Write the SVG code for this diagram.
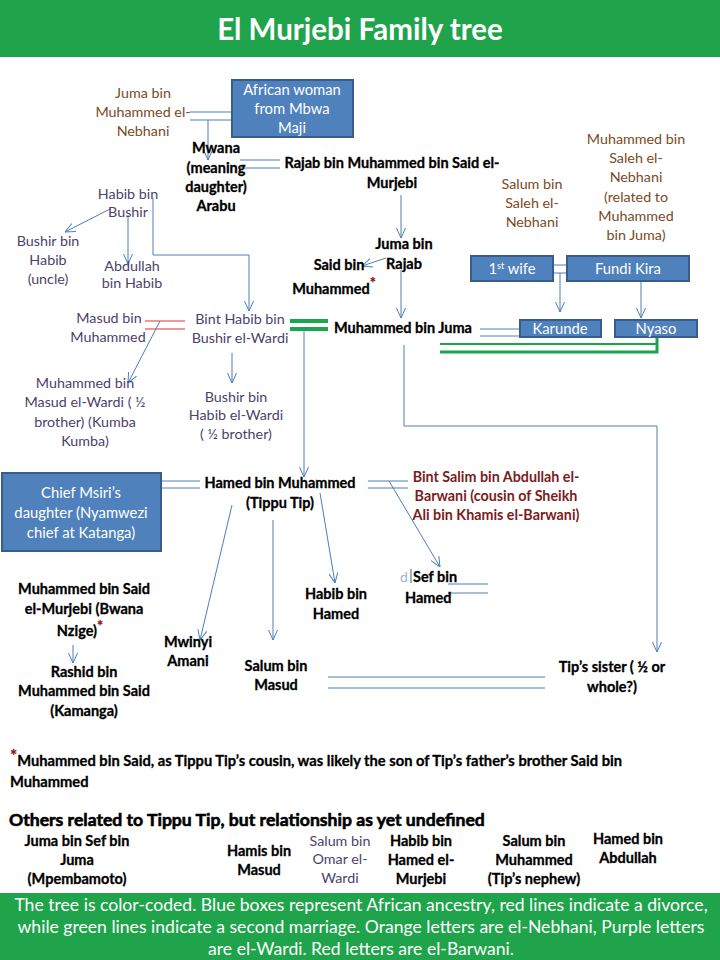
<svg xmlns="http://www.w3.org/2000/svg" width="720" height="960" viewBox="0 0 720 960">
<style>
text{font-family:Lato,"Liberation Sans",sans-serif}
.b{font-weight:bold;fill:#000;font-size:14.5px;stroke:#000;stroke-width:0.3}
.or{fill:#7a4a1e;font-size:14.3px}
.pu{fill:#4d3f6b;font-size:14.3px}
.rd{fill:#7b1c1c;font-weight:bold;font-size:14.3px}
.bx{fill:#4f81bd;stroke:#385d8a;stroke-width:2}
.wt{fill:#fff;font-size:14.8px}
.c{fill:none;stroke:#4a7ebb;stroke-width:1}
.a{marker-end:url(#arr)}
.red{stroke:#e03030;stroke-width:1.2;fill:none}
.grn{stroke:#1aa64a;fill:none}
.star{fill:#8b1a1a;stroke:#8b1a1a;font-weight:bold}
</style>
<defs>
<marker id="arr" viewBox="0 0 10 10" refX="10" refY="5" markerWidth="10" markerHeight="10" orient="auto" markerUnits="userSpaceOnUse">
<path d="M0,0.5 L10,5 L0,9.5" fill="none" stroke="#4a7ebb" stroke-width="1"/>
</marker>
</defs>
<rect width="720" height="960" fill="#fff"/>
<g id="header">
<rect x="0" y="0" width="720" height="57" fill="#1fa44b"/>
<text x="360" y="40" text-anchor="middle" fill="#fff" font-weight="bold" font-size="29.5">El Murjebi Family tree</text>
</g>
<g id="connectors">
<path class="c" d="M190,112 H232 M190,120 H232"/>
<path class="c a" d="M208,120 V160"/>
<path class="c" d="M240,160 H280 M240,168 H280"/>
<path class="c a" d="M401,195 V238"/>
<path class="c a" d="M386,258 L362,266"/>
<path class="c a" d="M401,270 V318"/>
<path class="c" d="M553,265 H567 M553,273 H567"/>
<path class="c a" d="M560,273 V312"/>
<path class="c a" d="M641,281 V318"/>
<path class="c" d="M480,329 H520 M480,336 H520"/>
<path class="grn" stroke-width="2" d="M440,344 H657"/>
<path class="grn" stroke-width="3" d="M440,352 H657 V337"/>
<path class="grn" stroke-width="4" d="M290,321 H328 M290,329 H328"/>
<path class="c a" d="M304,329 V477"/>
<path class="c a" d="M153,198 V255 H249 V311"/>
<path class="c a" d="M110,209 L65,232"/>
<path class="c a" d="M128,215 V264"/>
<path class="red" d="M145,321 H185 M145,329 H185"/>
<path class="c a" d="M160,321 L128,383"/>
<path class="c a" d="M232,353 V383"/>
<path class="c a" d="M404,345 V426 H657 V652"/>
<path class="c" d="M162,481 H200 M162,488 H200"/>
<path class="c" d="M368,481 H408 M368,488 H408"/>
<path class="c a" d="M389,481 L440,567"/>
<path class="c" d="M448,584 H488 M448,593 H488"/>
<path class="c a" d="M232,505 L200,640"/>
<path class="c a" d="M273,520 V640"/>
<path class="c a" d="M320,493 L335,583"/>
<path class="c" d="M328,677 H545 M328,688 H545"/>
<path class="c a" d="M73,645 V663"/>
</g>
<g id="juma-muhammed-nebhani"><text class="or" text-anchor="middle"><tspan x="143" y="98">Juma bin</tspan><tspan x="143" y="117">Muhammed el-</tspan><tspan x="143" y="136">Nebhani</tspan></text></g>
<g id="african-woman"><rect class="bx" x="232" y="80" width="121" height="57"/><text class="wt" text-anchor="middle"><tspan x="292" y="95">African woman</tspan><tspan x="292" y="114">from Mbwa</tspan><tspan x="292" y="133">Maji</tspan></text></g>
<g id="mwana"><text class="b" text-anchor="middle"><tspan x="216" y="153">Mwana</tspan><tspan x="216" y="173">(meaning</tspan><tspan x="216" y="192">daughter)</tspan><tspan x="216" y="211">Arabu</tspan></text></g>
<g id="rajab"><text class="b" text-anchor="middle"><tspan x="392" y="168">Rajab bin Muhammed bin Said el-</tspan><tspan x="392" y="188">Murjebi</tspan></text></g>
<g id="juma-rajab"><text class="b" text-anchor="middle"><tspan x="404" y="249">Juma bin</tspan><tspan x="404" y="269">Rajab</tspan></text></g>
<g id="said-muhammed"><text class="b" text-anchor="middle"><tspan x="339" y="270">Said bin</tspan><tspan x="334" y="294">Muhammed<tspan class="star" dy="-6">*</tspan></tspan></text></g>
<g id="muhammed-juma"><text class="b" x="334" y="333">Muhammed bin Juma</text></g>
<g id="salum-saleh"><text class="or" text-anchor="middle"><tspan x="532" y="189">Salum bin</tspan><tspan x="532" y="208">Saleh el-</tspan><tspan x="532" y="227">Nebhani</tspan></text></g>
<g id="muhammed-saleh"><text class="or" text-anchor="middle"><tspan x="636" y="144">Muhammed bin</tspan><tspan x="636" y="163">Saleh el-</tspan><tspan x="636" y="182">Nebhani</tspan><tspan x="636" y="202">(related to</tspan><tspan x="636" y="221">Muhammed</tspan><tspan x="636" y="240">bin Juma)</tspan></text></g>
<g id="first-wife"><rect class="bx" x="471" y="256" width="82" height="25"/><text class="wt" x="512" y="274" text-anchor="middle">1<tspan style="font-size:9px" dy="-5">st</tspan><tspan dy="5"> wife</tspan></text></g>
<g id="fundi-kira"><rect class="bx" x="567" y="256" width="122" height="25"/><text class="wt" x="628" y="274" text-anchor="middle">Fundi Kira</text></g>
<g id="karunde"><rect class="bx" x="520" y="320" width="81" height="17"/><text class="wt" x="560" y="334" text-anchor="middle">Karunde</text></g>
<g id="nyaso"><rect class="bx" x="615" y="320" width="82" height="17"/><text class="wt" x="656" y="334" text-anchor="middle">Nyaso</text></g>
<g id="habib-bushir"><text class="pu" text-anchor="middle"><tspan x="128" y="199">Habib bin</tspan><tspan x="128" y="217">Bushir</tspan></text></g>
<g id="bushir-habib-uncle"><text class="pu" text-anchor="middle"><tspan x="48" y="246">Bushir bin</tspan><tspan x="48" y="265">Habib</tspan><tspan x="48" y="284">(uncle)</tspan></text></g>
<g id="abdullah-habib"><text class="pu" text-anchor="middle"><tspan x="132" y="271">Abdullah</tspan><tspan x="132" y="288">bin Habib</tspan></text></g>
<g id="masud-muhammed"><text class="pu" text-anchor="middle"><tspan x="109" y="323">Masud bin</tspan><tspan x="108" y="342">Muhammed</tspan></text></g>
<g id="bint-habib"><text class="pu" text-anchor="middle"><tspan x="240" y="324">Bint Habib bin</tspan><tspan x="240" y="343">Bushir el-Wardi</tspan></text></g>
<g id="bushir-habib-wardi"><text class="pu" text-anchor="middle"><tspan x="236" y="402">Bushir bin</tspan><tspan x="236" y="420">Habib el-Wardi</tspan><tspan x="236" y="439">( ½ brother)</tspan></text></g>
<g id="muhammed-masud"><text class="pu" text-anchor="middle"><tspan x="85" y="388">Muhammed bin</tspan><tspan x="85" y="407">Masud el-Wardi ( ½</tspan><tspan x="85" y="427">brother) (Kumba</tspan><tspan x="85" y="446">Kumba)</tspan></text></g>
<g id="chief-msiri"><rect class="bx" x="2" y="473" width="159" height="78"/><text class="wt" text-anchor="middle"><tspan x="81" y="498">Chief Msiri’s</tspan><tspan x="81" y="518">daughter (Nyamwezi</tspan><tspan x="81" y="538">chief at Katanga)</tspan></text></g>
<g id="hamed-tippu"><text class="b" text-anchor="middle"><tspan x="280" y="488">Hamed bin Muhammed</tspan><tspan x="280" y="508">(Tippu Tip)</tspan></text></g>
<g id="bint-salim"><text class="rd" text-anchor="middle"><tspan x="496" y="482">Bint Salim bin Abdullah el-</tspan><tspan x="496" y="501">Barwani (cousin of Sheikh</tspan><tspan x="496" y="520">Ali bin Khamis el-Barwani)</tspan></text></g>
<g id="sef-hamed"><text x="400" y="582" fill="#9bb3d6" font-size="14">d</text><line x1="411" y1="569" x2="411" y2="583" stroke="#333" stroke-width="0.8"/><text class="b"><tspan x="413" y="582">Sef bin</tspan><tspan x="405" y="603">Hamed</tspan></text></g>
<g id="habib-hamed"><text class="b" text-anchor="middle"><tspan x="336" y="599">Habib bin</tspan><tspan x="336" y="619">Hamed</tspan></text></g>
<g id="mwinyi-amani"><text class="b" text-anchor="middle"><tspan x="188" y="647">Mwinyi</tspan><tspan x="188" y="666">Amani</tspan></text></g>
<g id="salum-masud"><text class="b" text-anchor="middle"><tspan x="276" y="671">Salum bin</tspan><tspan x="276" y="690">Masud</tspan></text></g>
<g id="tips-sister"><text class="b" text-anchor="middle"><tspan x="612" y="672">Tip’s sister ( ½ or</tspan><tspan x="612" y="692">whole?)</tspan></text></g>
<g id="bwana-nzige"><text class="b" text-anchor="middle"><tspan x="84" y="594">Muhammed bin Said</tspan><tspan x="84" y="614">el-Murjebi (Bwana</tspan><tspan x="80" y="636">Nzige)<tspan class="star" dy="-5">*</tspan></tspan></text></g>
<g id="rashid"><text class="b" text-anchor="middle"><tspan x="84" y="677">Rashid bin</tspan><tspan x="84" y="696">Muhammed bin Said</tspan><tspan x="84" y="716">(Kamanga)</tspan></text></g>
<g id="footnote"><text class="b" style="font-size:14.7px"><tspan x="10" y="766"><tspan class="star" style="font-size:17px" dy="-4">*</tspan><tspan dy="4">Muhammed bin Said, as Tippu Tip’s cousin, was likely the son of Tip’s father’s brother Said bin</tspan></tspan><tspan x="10" y="787">Muhammed</tspan></text></g>
<g id="others-heading"><text class="b" x="9" y="826" style="font-size:17.6px;stroke-width:0.6">Others related to Tippu Tip, but relationship as yet undefined</text></g>
<g id="juma-sef"><text class="b" text-anchor="middle"><tspan x="77" y="846">Juma bin Sef bin</tspan><tspan x="77" y="865">Juma</tspan><tspan x="77" y="884">(Mpembamoto)</tspan></text></g>
<g id="hamis-masud"><text class="b" text-anchor="middle"><tspan x="259" y="856">Hamis bin</tspan><tspan x="259" y="875">Masud</tspan></text></g>
<g id="salum-omar"><text class="pu" text-anchor="middle"><tspan x="340" y="846">Salum bin</tspan><tspan x="340" y="864">Omar el-</tspan><tspan x="340" y="883">Wardi</tspan></text></g>
<g id="habib-hamed-murjebi"><text class="b" text-anchor="middle"><tspan x="421" y="846">Habib bin</tspan><tspan x="421" y="865">Hamed el-</tspan><tspan x="421" y="884">Murjebi</tspan></text></g>
<g id="salum-muhammed"><text class="b" text-anchor="middle"><tspan x="534" y="846">Salum bin</tspan><tspan x="534" y="865">Muhammed</tspan><tspan x="534" y="884">(Tip’s nephew)</tspan></text></g>
<g id="hamed-abdullah"><text class="b" text-anchor="middle"><tspan x="628" y="844">Hamed bin</tspan><tspan x="628" y="863">Abdullah</tspan></text></g>
<g id="footer">
<rect x="0" y="893" width="720" height="67" fill="#1fa44b"/>
<text fill="#fff" font-size="17.6" text-anchor="middle"><tspan x="361" y="911">The tree is color-coded. Blue boxes represent African ancestry, red lines indicate a divorce,</tspan><tspan x="361" y="933">while green lines indicate a second marriage.  Orange letters are el-Nebhani, Purple letters</tspan><tspan x="361" y="955">are el-Wardi.  Red letters are el-Barwani.</tspan></text>
</g>
</svg>
